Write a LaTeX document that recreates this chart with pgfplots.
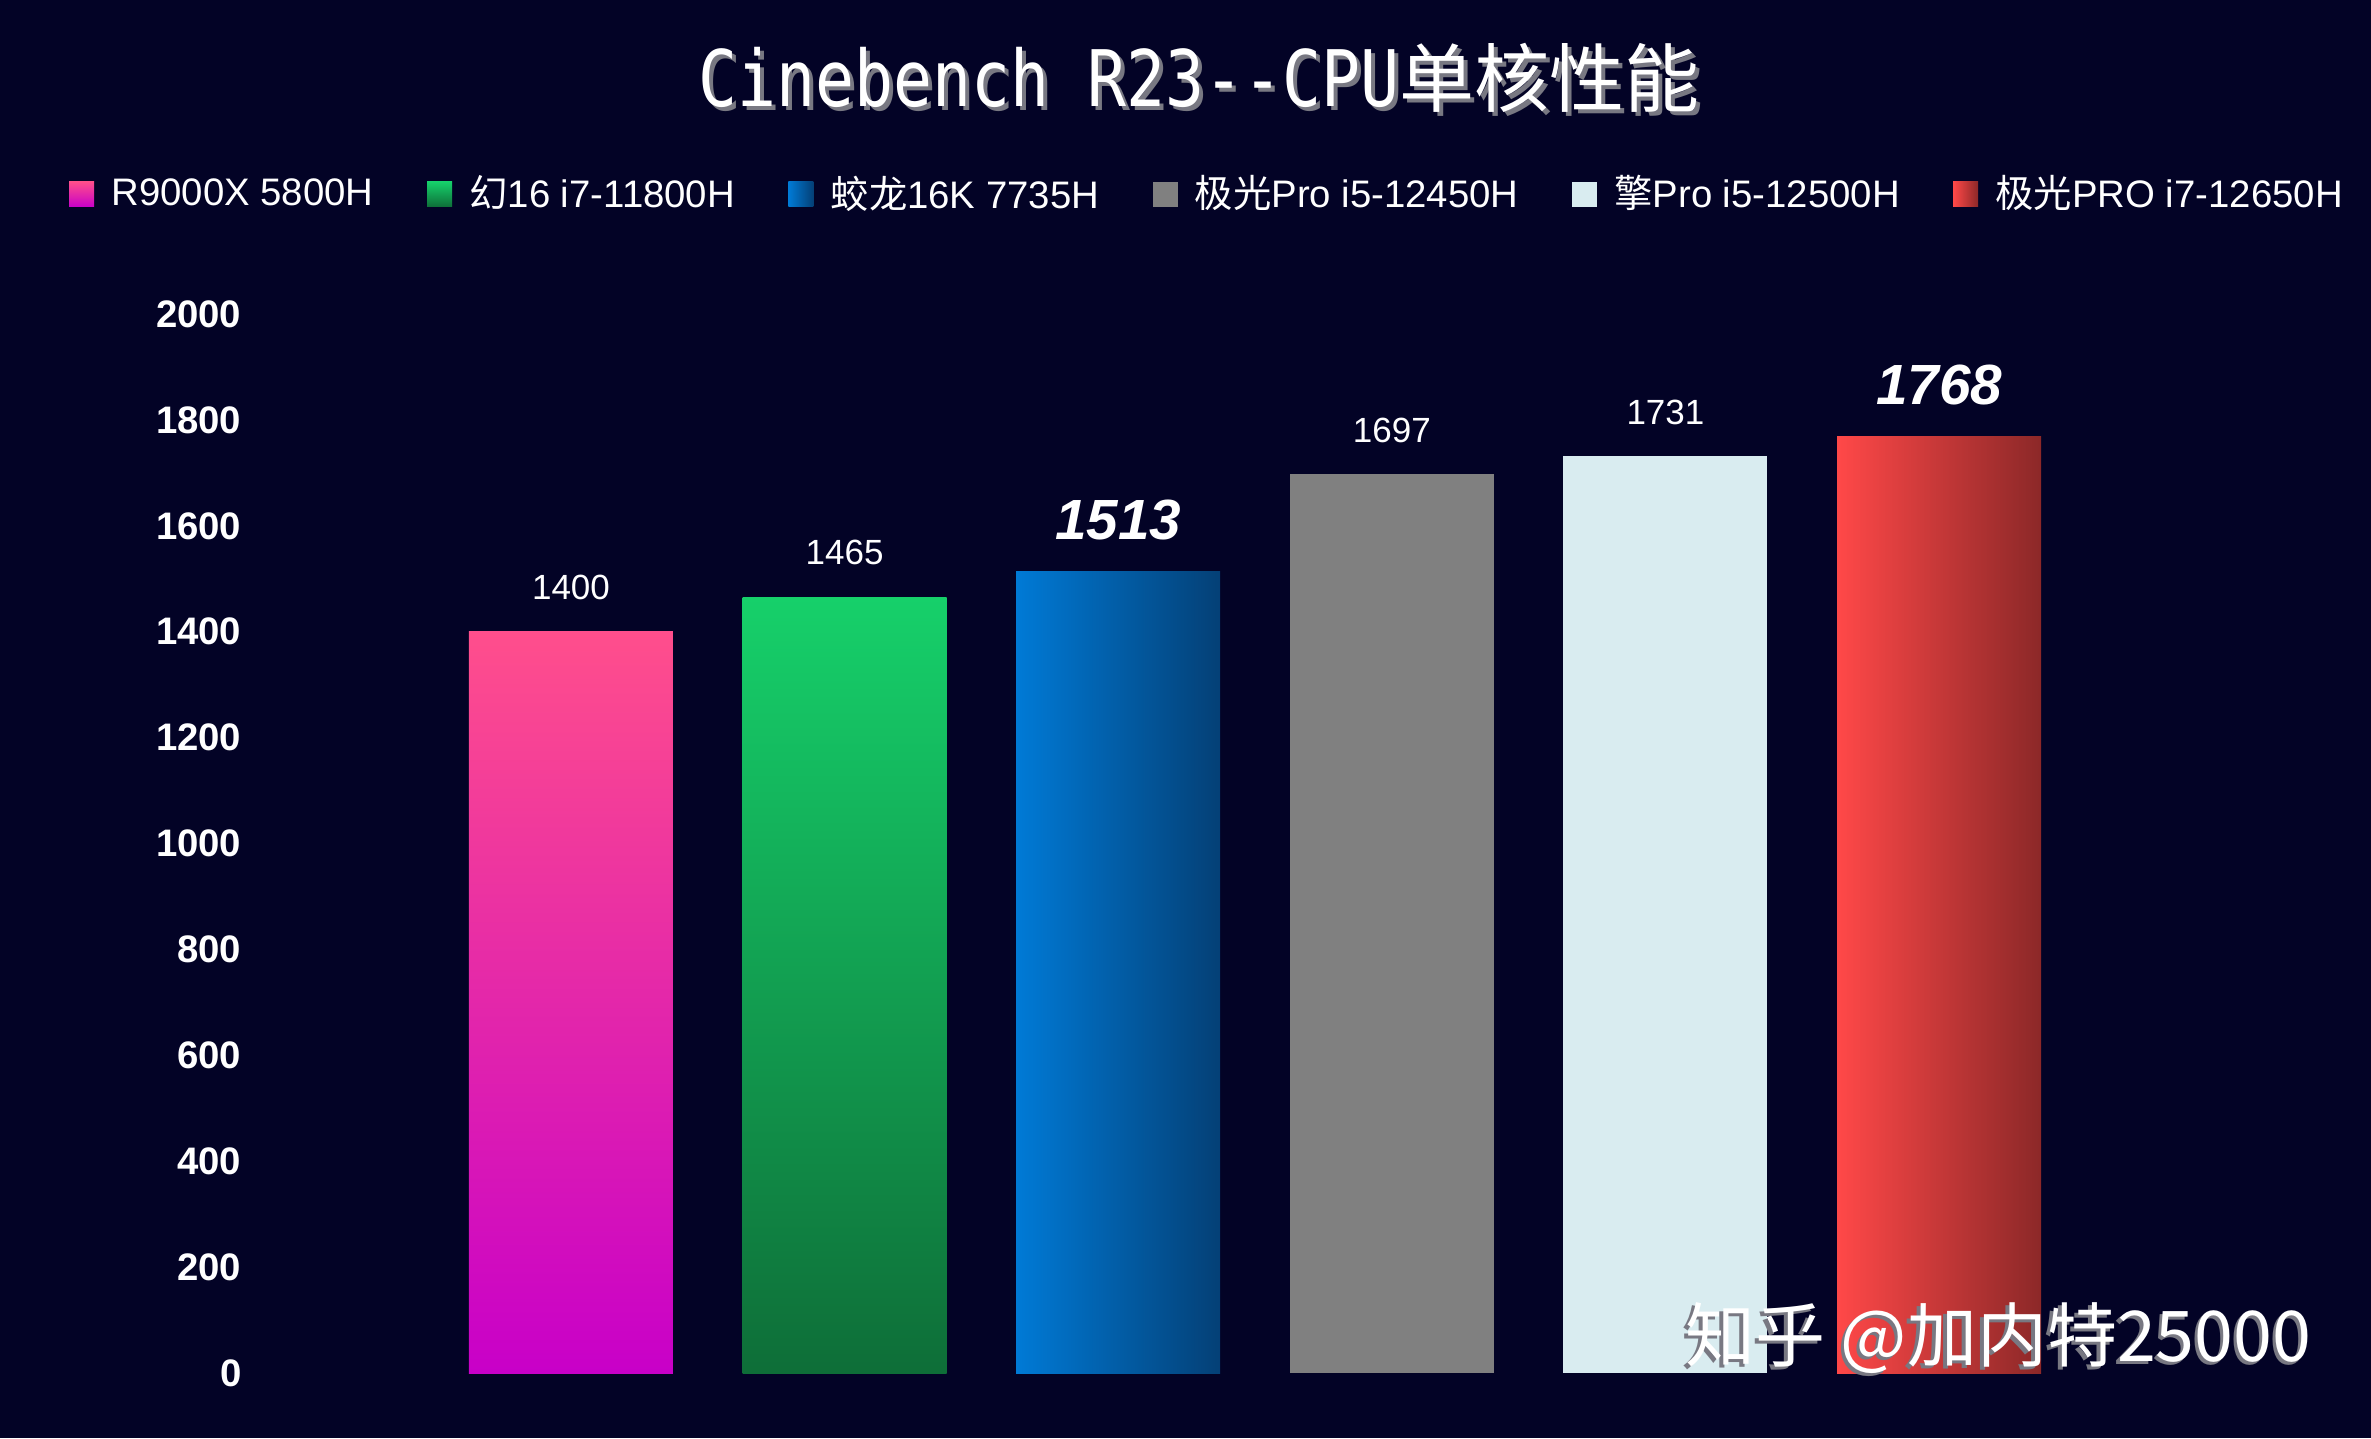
\documentclass[border=0pt]{standalone}
\usepackage{fontspec}
\usepackage{graphicx}
\usepackage{pgfplots}
\pgfplotsset{compat=1.18}
\setmainfont{Liberation Sans}
\newfontfamily\cjk{Noto Sans CJK SC}
\newfontfamily\titlemono{DejaVu Sans Mono}
\definecolor{bg}{RGB}{3,3,38}
\definecolor{pinkT}{RGB}{255,78,140}
\definecolor{pinkB}{RGB}{200,0,200}
\definecolor{greenT}{RGB}{22,208,106}
\definecolor{greenB}{RGB}{14,110,56}
\definecolor{blueL}{RGB}{0,122,214}
\definecolor{blueM}{RGB}{0,108,196}
\definecolor{blueR}{RGB}{4,64,118}
\definecolor{grayB}{RGB}{128,128,128}
\definecolor{lightB}{RGB}{217,236,240}
\definecolor{redL}{RGB}{255,72,72}
\definecolor{redM}{RGB}{234,64,64}
\definecolor{redR}{RGB}{140,40,40}
\definecolor{shadowgray}{RGB}{120,120,130}
\newcommand\titletext{\scalebox{0.83}[1]{\titlemono\fontsize{23.4}{26}\selectfont Cinebench R23-{}-CPU}{\cjk\fontsize{22.5}{26}\selectfont 单核性能}}
\begin{document}
\begin{tikzpicture}
\path[use as bounding box, fill=bg] (-81pt,-19.5pt) rectangle (630.3pt,411.9pt);
\begin{axis}[
  at={(0,0)}, anchor=south west,
  scale only axis, width=618pt, height=317.7pt,
  xmin=-1.1, xmax=6.429, ymin=0, ymax=2000,
  xtick=\empty, ytick={0,200,...,2000},
  axis line style={draw=none}, tick style={draw=none},
  clip=false,
  /pgf/number format/1000 sep={},
  /pgf/number format/assume math mode=true,
  yticklabel style={font=\bfseries\fontsize{11.5}{13}\selectfont, text=white, inner sep=0pt, xshift=-8.4pt},
  legend style={draw=none, fill=none, text=white, font=\fontsize{11.5}{13}\selectfont,
    at={(0.456,1.113)}, anchor=center, legend columns=6,
    /tikz/every odd column/.append style={column sep=3.2pt},
    /tikz/every even column/.append style={column sep=14pt}},
  legend image code/.code={\fill[#1] (0pt,-3.75pt) rectangle (7.5pt,3.75pt);},
  every node near coord/.append style={text=white, inner sep=0pt, yshift=9.4pt},
]
\addplot[ybar, bar width=61.2pt, bar shift=0pt, draw=none, top color=pinkT, bottom color=pinkB,
  nodes near coords, nodes near coords style={font=\fontsize{10.5}{12}\selectfont}]
  coordinates {(0,1400)};
\addlegendentry{R9000X 5800H}
\addplot[ybar, bar width=61.2pt, bar shift=0pt, draw=none, top color=greenT, bottom color=greenB,
  nodes near coords, nodes near coords style={font=\fontsize{10.5}{12}\selectfont}]
  coordinates {(1,1465)};
\addlegendentry{{\cjk 幻}16 i7-11800H}
\addplot[ybar, bar width=61.2pt, bar shift=0pt, draw=none, left color=blueL, middle color=blueM, right color=blueR,
  nodes near coords, nodes near coords style={font=\bfseries\itshape\fontsize{17}{19}\selectfont}]
  coordinates {(2,1513)};
\addlegendentry{{\cjk 蛟龙}16K 7735H}
\addplot[ybar, bar width=61.2pt, bar shift=0pt, draw=none, fill=grayB,
  nodes near coords, nodes near coords style={font=\fontsize{10.5}{12}\selectfont}]
  coordinates {(3,1697)};
\addlegendentry{{\cjk 极光}Pro i5-12450H}
\addplot[ybar, bar width=61.2pt, bar shift=0pt, draw=none, fill=lightB,
  nodes near coords, nodes near coords style={font=\fontsize{10.5}{12}\selectfont}]
  coordinates {(4,1731)};
\addlegendentry{{\cjk 擎}Pro i5-12500H}
\addplot[ybar, bar width=61.2pt, bar shift=0pt, draw=none, left color=redL, middle color=redM, right color=redR,
  nodes near coords, nodes near coords style={font=\bfseries\itshape\fontsize{17}{19}\selectfont}]
  coordinates {(5,1768)};
\addlegendentry{{\cjk 极光}PRO i7-12650H}
\end{axis}
% title with shadow
\node[text=shadowgray, anchor=center] at (279.9pt,387.3pt) {\titletext};
\node[text=white, anchor=center] at (278.7pt,388.5pt) {\titletext};
% watermark
\node[anchor=west, text=shadowgray, font=\cjk\fontsize{21}{24}\selectfont] at (420pt,9.7pt) {知乎 @加内特25000};
\node[anchor=west, text=white, font=\cjk\fontsize{21}{24}\selectfont] at (421pt,10.5pt) {知乎 @加内特25000};
\end{tikzpicture}
\end{document}
